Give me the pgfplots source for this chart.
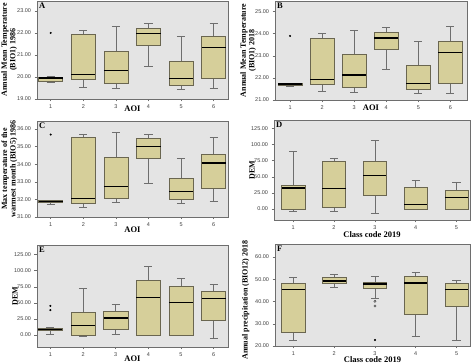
\documentclass[border=0pt]{standalone}
\usepackage{fontspec}
\setmainfont{Liberation Serif}
\setsansfont{Liberation Sans}
\usepackage{pgfplots}
\pgfplotsset{compat=1.18}
\usepgfplotslibrary{statistics}
\definecolor{bgc}{HTML}{E4E4E4}
\definecolor{boxc}{HTML}{D6CF9A}
\definecolor{edgec}{HTML}{6A6650}
\definecolor{framec}{HTML}{6E6E6E}
\pgfplotsset{
 spss/.style={
  scale only axis,
  axis background/.style={fill=bgc},
  axis line style={draw=framec, line width=0.6pt},
  tick align=outside, tick pos=left,
  major tick length=2.5pt,
  every tick/.style={draw=framec, line width=0.5pt},
  tick label style={font=\fontsize{5.5}{6}\selectfont\sffamily, text=black!75},
  /pgf/number format/assume math mode=true,
  yticklabel style={/pgf/number format/.cd, fixed, fixed zerofill, precision=2},
  xtick={1,...,6},
  boxplot/draw direction=y,
  boxplot/every box/.style={draw=edgec, fill=boxc, line width=0.5pt},
  boxplot/every whisker/.style={draw=framec, line width=0.5pt},
  boxplot/every median/.style={draw=black, line width=1.4pt},
  every axis y label/.style={rotate=90, anchor=center, align=center,
     font=\bfseries\fontsize{8}{8.5}\selectfont},
  every axis x label/.style={at={(axis description cs:0.5,0)}, anchor=center,
     font=\bfseries\fontsize{8.5}{9}\selectfont},
 },
 bx/.style={boxplot/box extend=0.74, boxplot/whisker extend=0.25},
 bxf/.style={boxplot/box extend=0.57, boxplot/whisker extend=0.2},
 star/.style={mark=*, mark size=0.8pt, mark options={fill=black, draw=black}},
 circ/.style={only marks, mark=o, mark size=1.1pt, mark options={draw=black!80, line width=0.4pt}},
}
\newcommand{\bp}[6]{\addplot[star, boxplot prepared={draw position=#1, lower whisker=#2, lower quartile=#3, median=#4, upper quartile=#5, upper whisker=#6}]}
\newcommand{\plab}[1]{\node[anchor=north west, font=\bfseries\fontsize{8.5}{9}\selectfont, inner sep=0pt] at ([xshift=2pt,yshift=-2pt]rel axis cs:0,1) {#1};}
\begin{document}
\begin{tikzpicture}
\path (0pt,0pt) rectangle (474pt,363pt);
% ---------- A ----------
\begin{axis}[spss, bx, at={(37pt,264pt)}, anchor=south west, width=191pt, height=98pt,
  xmin=0.58, xmax=6.44, ymin=19, ymax=23.45, ytick={19,20,21,22,23},
  xlabel={AOI}, xlabel style={yshift=-9.5pt},
  ylabel={Annual Mean Temperature\\(BIO1) 1986}, ylabel style={at={(axis description cs:-0.145,0.5)}}]
\bp{1}{19.78}{19.82}{19.95}{20.00}{20.02} coordinates {(1,22.0)};
\bp{2}{19.52}{19.88}{20.10}{21.92}{22.10} coordinates {};
\bp{3}{19.50}{19.72}{20.30}{21.18}{22.30} coordinates {};
\bp{4}{20.50}{21.45}{21.98}{22.20}{22.42} coordinates {};
\bp{5}{19.45}{19.62}{19.92}{20.70}{21.85} coordinates {};
\bp{6}{19.50}{19.92}{21.33}{21.85}{22.45} coordinates {};
\plab{A}
\end{axis}
% ---------- B ----------
\begin{axis}[spss, bx, at={(275pt,263pt)}, anchor=south west, width=192pt, height=99pt,
  xmin=0.53, xmax=6.52, ymin=21, ymax=25.48, ytick={21,22,23,24,25},
  xlabel={AOI}, xlabel style={yshift=-8pt},
  ylabel={Annual Mean Temperature\\(BIO1) 2018}, ylabel style={at={(axis description cs:-0.14,0.5)}}]
\bp{1}{21.62}{21.67}{21.72}{21.78}{21.78} coordinates {(1,23.9)};
\bp{2}{21.38}{21.70}{21.92}{23.80}{24.00} coordinates {};
\bp{3}{21.33}{21.57}{22.13}{23.05}{24.15} coordinates {};
\bp{4}{22.38}{23.30}{23.80}{24.07}{24.30} coordinates {};
\bp{5}{21.30}{21.47}{21.75}{22.55}{23.68} coordinates {};
\bp{6}{21.32}{21.75}{23.15}{23.68}{24.33} coordinates {};
\plab{B}
\end{axis}
% ---------- C ----------
\begin{axis}[spss, bx, at={(37pt,146pt)}, anchor=south west, width=191pt, height=96pt,
  xmin=0.58, xmax=6.44, ymin=31, ymax=36.45, ytick={31,32,33,34,35,36},
  xlabel={AOI}, xlabel style={yshift=-13pt},
  ylabel={Max temperature of the\\warmest month (BIO5) 1986}, ylabel style={at={(axis description cs:-0.145,0.5)}}]
\bp{1}{31.70}{31.82}{31.88}{31.95}{31.95} coordinates {(1,35.68)};
\bp{2}{31.53}{31.77}{32.05}{35.55}{35.68} coordinates {};
\bp{3}{31.81}{32.06}{32.74}{34.38}{35.81} coordinates {};
\bp{4}{32.89}{34.34}{35.00}{35.49}{35.68} coordinates {};
\bp{5}{31.77}{31.98}{32.45}{33.19}{34.32} coordinates {};
\bp{6}{31.91}{32.64}{34.06}{34.58}{35.51} coordinates {};
\plab{C}
\end{axis}
% ---------- D ----------
\begin{axis}[spss, bxf, at={(274pt,143pt)}, anchor=south west, width=196pt, height=100pt,
  xmin=0.53, xmax=5.33, ymin=-17, ymax=138, ytick={0,25,50,75,100,125}, xtick={1,...,5},
  xlabel={Class code 2019}, xlabel style={yshift=-14.5pt},
  ylabel={DEM}, ylabel style={at={(axis description cs:-0.112,0.5)}}]
\bp{1}{-3}{0}{32.6}{37.3}{89} coordinates {};
\bp{2}{-3}{2}{31.6}{73.6}{79} coordinates {};
\bp{3}{-6.2}{21.8}{52.3}{73.6}{106.7} coordinates {};
\bp{4}{0}{0}{7.3}{34.2}{45} coordinates {};
\bp{5}{0}{0}{18.1}{29}{41} coordinates {};
\plab{D}
\end{axis}
% ---------- E ----------
\begin{axis}[spss, bx, at={(37pt,16pt)}, anchor=south west, width=191pt, height=102pt,
  xmin=0.59, xmax=6.44, ymin=-18.6, ymax=140, ytick={0,25,50,75,100,125},
  xlabel={AOI}, xlabel style={yshift=-12pt},
  ylabel={DEM}, ylabel style={at={(axis description cs:-0.115,0.5)}}]
\bp{1}{1}{7.2}{8.8}{10.8}{11.9} coordinates {(1,45.4) (1,38.7)};
\bp{2}{-2.6}{0}{14.4}{36.1}{73.2} coordinates {};
\bp{3}{1}{8.8}{26.3}{36.6}{48} coordinates {};
\bp{4}{0}{0}{58.2}{84.5}{107} coordinates {};
\bp{5}{0}{0}{50.5}{76.3}{88.7} coordinates {};
\bp{6}{-5.7}{23.2}{56.7}{67.5}{78.9} coordinates {};
\plab{E}
\end{axis}
% ---------- F ----------
\begin{axis}[spss, bxf, at={(275pt,17pt)}, anchor=south west, width=195pt, height=102pt,
  xmin=0.55, xmax=5.33, ymin=20, ymax=65.9, ytick={20,30,40,50,60}, xtick={1,...,5},
  xlabel={Class code 2019}, xlabel style={yshift=-13.5pt},
  ylabel={Annual precipitation (BIO12) 2018}, ylabel style={at={(axis description cs:-0.15,0.45)}}]
\bp{1}{22.5}{26.3}{45.5}{48.2}{50.9} coordinates {};
\bp{2}{46.5}{48.4}{49.2}{50.9}{52.2} coordinates {};
\bp{3}{41.4}{45.9}{47.9}{48.9}{51.6} coordinates {(3,22.7)};
\addplot[circ] coordinates {(3,40.1) (3,38.0)};
\bp{4}{24.2}{34.1}{48.3}{51.2}{53.1} coordinates {};
\bp{5}{22.4}{37.7}{45.5}{48.2}{49.4} coordinates {};
\plab{F}
\end{axis}
\pgfresetboundingbox
\useasboundingbox (0pt,0pt) rectangle (474pt,363pt);
\end{tikzpicture}
\end{document}
